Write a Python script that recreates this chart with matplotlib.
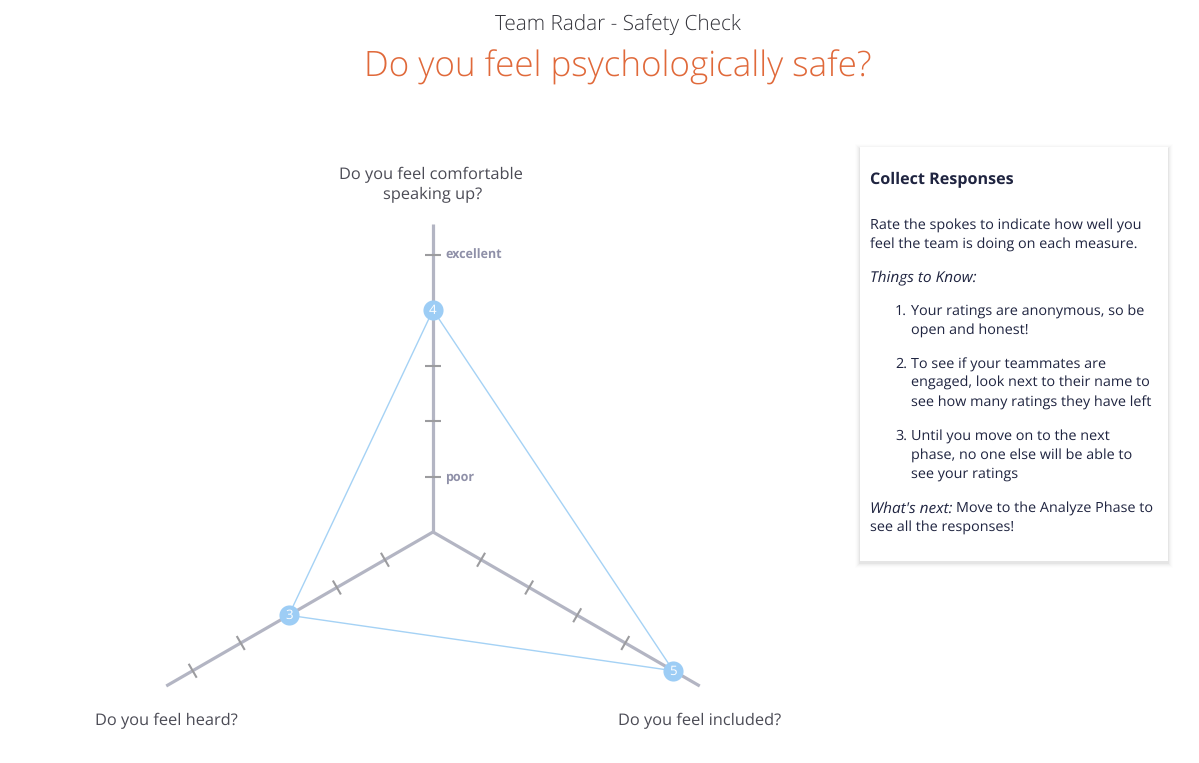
import numpy as np
import matplotlib
matplotlib.use("Agg")
import matplotlib.pyplot as plt
from matplotlib.patches import Rectangle

# ---- data ----
spoke_labels = [["Do you feel comfortable", "speaking up?"], "Do you feel included?", "Do you feel heard?"]
spoke_angles_deg = [0, 120, 240]
ratings = [4, 5, 3]
tick_values = [1, 2, 3, 4, 5]
scale_labels = {1: "poor", 5: "excellent"}
spoke_end = 5.55

title_top = "Team Radar - Safety Check"
title_main = "Do you feel psychologically safe?"

W, H = 1199, 763
UNIT = 55.5
CX, CY = 433, 532
FONT = "Open Sans"
plt.rcParams["font.family"] = [FONT, "DejaVu Sans"]
plt.rcParams["text.hinting"] = "none"
plt.rcParams["text.hinting_factor"] = 8

fig = plt.figure(figsize=(W / 100, H / 100), dpi=100, facecolor="white")

# pixel overlay for page furniture
pg = fig.add_axes([0, 0, 1, 1], zorder=1)
pg.set_xlim(0, W); pg.set_ylim(H, 0); pg.axis("off")

# radar axes in rating units
ax = fig.add_axes([0, 0, 1, 1], zorder=2)
ax.set_xlim(-CX / UNIT, (W - CX) / UNIT)
ax.set_ylim(-(H - CY) / UNIT, CY / UNIT)
ax.axis("off"); ax.patch.set_alpha(0)

ang = np.radians(spoke_angles_deg)
ux, uy = np.sin(ang), np.cos(ang)
SPOKE = "#b3b5c3"; TICK = "#9c9c9f"; LINE = "#a5d2f5"; NODE = "#9dcdf5"

for x, y in zip(ux, uy):
    ax.plot([0, x * spoke_end], [0, y * spoke_end], color=SPOKE, lw=2.3, solid_capstyle="butt", zorder=2)
    for t_ in tick_values:
        px, py = -y * 0.145, x * 0.145
        ax.plot([x * t_ - px, x * t_ + px], [y * t_ - py, y * t_ + py], color=TICK, lw=1.5, solid_capstyle="butt", zorder=3)

vals = np.array(ratings, float)
px_, py_ = ux * vals, uy * vals
ax.plot(np.r_[px_, px_[0]], np.r_[py_, py_[0]], color=LINE, lw=1.0, zorder=4)
ax.scatter(px_, py_, s=210, color=NODE, linewidths=0, zorder=5)
for x, y, v in zip(px_, py_, ratings):
    ax.text(x, y - 0.01, str(v), color="white", fontsize=9.5, ha="center", va="center", zorder=6)

for t_, lab in scale_labels.items():
    ax.text(0.225, t_ - 0.015, lab, color="#8f90a8", fontsize=9.0, fontweight="bold", ha="left", va="center")

# spoke labels
LBL = "#4b4b55"
pg.text(430.5, 175, spoke_labels[0][0], color=LBL, fontsize=11.8, ha="center", va="center")
pg.text(433, 195, spoke_labels[0][1], color=LBL, fontsize=11.8, ha="center", va="center")
pg.text(700, 721, spoke_labels[1], color=LBL, fontsize=11.8, ha="center", va="center")
pg.text(166, 721, spoke_labels[2], color=LBL, fontsize=11.8, ha="center", va="center")

# titles
pg.text(618, 24.5, title_top, color="#33333a", fontsize=14.95, fontweight="light", ha="center", va="center")
pg.text(618, 67, title_main, color="#e0693a", fontsize=25.2, fontweight="light", ha="center", va="center")

# panel with soft shadow
x0, y0, w, h = 860, 147, 308, 414
for grow, a in [(5, 0.008), (4, 0.012), (3, 0.018), (2, 0.025), (1, 0.04)]:
    pg.add_patch(Rectangle((x0 - grow, y0 - grow + 1.5), w + 2 * grow, h + 2 * grow, fc="black", ec="none", alpha=a, zorder=1))
pg.add_patch(Rectangle((x0, y0), w, h, fc="white", ec="none", zorder=2))

INK = "#1f2440"
FS = 10.4
IT = 11.1
def t(x, y, s, **k):
    k.setdefault("fontsize", FS)
    pg.text(x, y, s, color=INK, ha="left", va="center", zorder=3, **k)

t(870, 180, "Collect Responses", fontsize=11.6, fontweight="bold")
t(870, 225.5, "Rate the spokes to indicate how well you")
t(870, 244.5, "feel the team is doing on each measure.")
t(870, 278, "Things to Know:", style="italic", fontsize=IT)
num_x, body_x = 895, 911
t(num_x, 311.5, "1."); t(body_x, 311.5, "Your ratings are anonymous, so be")
t(body_x, 330.5, "open and honest!")
t(num_x, 364.5, "2."); t(body_x, 364.5, "To see if your teammates are")
t(body_x, 383.5, "engaged, look next to their name to")
t(body_x, 402.5, "see how many ratings they have left")
t(num_x, 436.5, "3."); t(body_x, 436.5, "Until you move on to the next")
t(body_x, 455.5, "phase, no one else will be able to")
t(body_x, 474.5, "see your ratings")
t(870, 508.5, "What's next:", style="italic", fontsize=IT)
t(956, 508.5, "Move to the Analyze Phase to")
t(870, 527.5, "see all the responses!")

fig.savefig("out.png", dpi=100, facecolor="white")
